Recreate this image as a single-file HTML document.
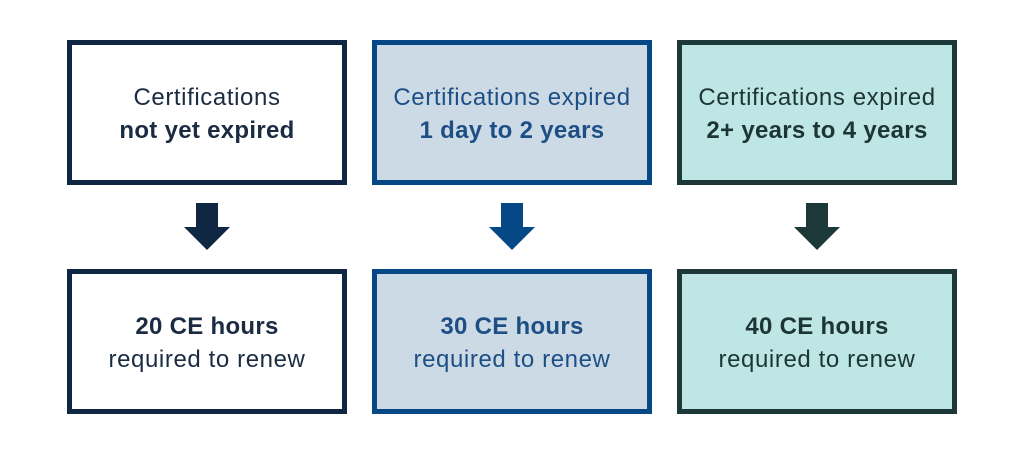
<!DOCTYPE html>
<html><head><style>
html,body{margin:0;padding:0;background:#fff;width:1024px;height:461px;overflow:hidden;font-family:"Liberation Sans",sans-serif}
.b{position:absolute;width:280px;height:145px;box-sizing:border-box;border:5px solid;padding-top:3px;display:flex;flex-direction:column;justify-content:center;align-items:center;font-size:24px;letter-spacing:0.6px;line-height:33px;text-align:center}
.b b{font-weight:bold;letter-spacing:0.3px}
.c1{border-color:#0f2742;color:#1a2b42;background:#fff}
.c2{border-color:#064785;color:#1d4f85;background:#ccdae6}
.c3{border-color:#1c3838;color:#1e3535;background:#bde6e4}
svg{position:absolute}
</style></head><body>
<div class="b c1" style="left:67px;top:40px"><span>Certifications</span><b>not yet expired</b></div>
<div class="b c2" style="left:372px;top:40px"><span>Certifications expired</span><b>1 day to 2 years</b></div>
<div class="b c3" style="left:677px;top:40px"><span>Certifications expired</span><b>2+ years to 4 years</b></div>
<div class="b c1" style="left:67px;top:269px"><b>20 CE hours</b><span>required to renew</span></div>
<div class="b c2" style="left:372px;top:269px"><b>30 CE hours</b><span>required to renew</span></div>
<div class="b c3" style="left:677px;top:269px"><b>40 CE hours</b><span>required to renew</span></div>
<svg width="1024" height="461" style="left:0;top:0">
<polygon fill="#0f2742" points="196,203 218,203 218,227 230,227 207,250 184,227 196,227"/>
<polygon fill="#064785" points="501,203 523,203 523,227 535,227 512,250 489,227 501,227"/>
<polygon fill="#1c3838" points="806,203 828,203 828,227 840,227 817,250 794,227 806,227"/>
</svg>
</body></html>
